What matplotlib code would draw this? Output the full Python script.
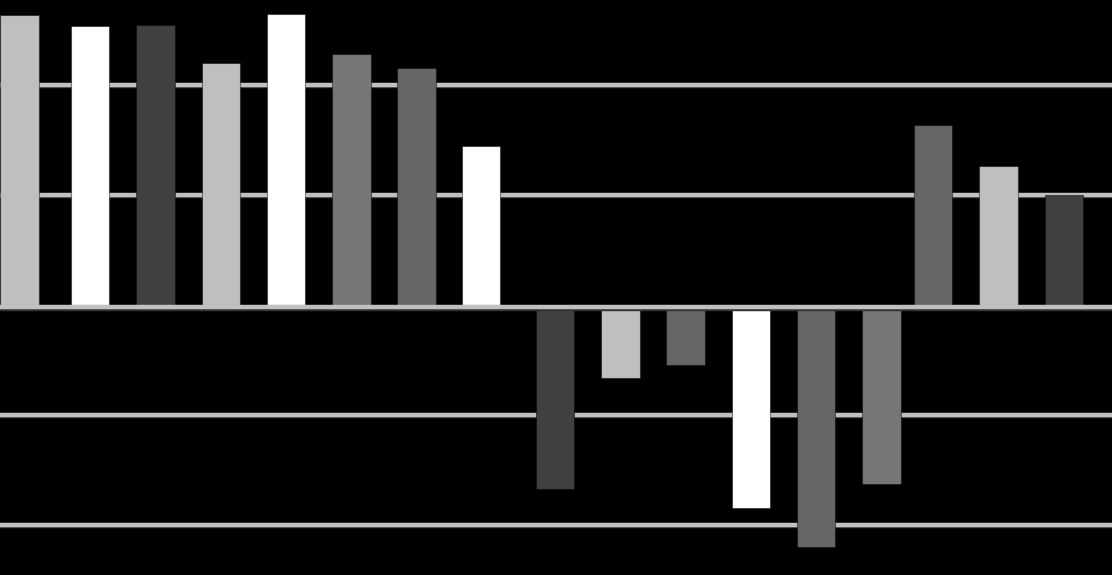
import numpy as np
import matplotlib
matplotlib.use("Agg")
import matplotlib.pyplot as plt
import matplotlib.patheffects as pe
import matplotlib.transforms as mtransforms

# bar slots (category positions) and values
positions = [0.30, 1.38, 2.38, 3.38, 4.38, 5.38, 6.38, 7.37,
             8.50, 9.50, 10.50, 11.50, 12.50, 13.50, 14.29, 15.29, 16.29]
values = [2.63, 2.53, 2.54, 2.20, 2.64, 2.28, 2.15, 1.44,
          -1.68, -0.67, -0.55, -1.85, -2.20, -1.63, 1.63, 1.26, 1.00]
colors = ["#bfbfbf", "#ffffff", "#404040", "#bfbfbf", "#ffffff", "#767676", "#666666", "#ffffff",
          "#404040", "#bfbfbf", "#666666", "#ffffff", "#666666", "#767676", "#666666", "#bfbfbf", "#404040"]
grid_vals = [-2, -1, 1, 2]

fig = plt.figure(figsize=(11.12, 5.75), dpi=100, facecolor="black")
ax = fig.add_axes([0, 0, 1, 1])
ax.set_facecolor("black")

shadow = [pe.SimpleLineShadow(offset=(0, -1.2), shadow_color="#333333", alpha=1), pe.Normal()]

for g in grid_vals:
    ax.axhline(g, color="#c0c0c0", lw=3.2, zorder=1, path_effects=shadow)

ax.bar(positions, values, width=0.588, color=colors,
       edgecolor=(0, 0, 0, 0.45), linewidth=0.8, zorder=2)

# baseline sits a touch below zero in the original
base = ax.axhline(0, color="#c0c0c0", lw=3.2, zorder=3, path_effects=shadow)
base.set_transform(mtransforms.offset_copy(base.get_transform(), fig=fig, x=0, y=-2.4, units="dots"))

ax.set_xlim(0, 1112 / 65.3)
ax.set_ylim(-270.4 / 110, 304.6 / 110)
ax.axis("off")

fig.savefig("out.png", dpi=100, facecolor="black")
